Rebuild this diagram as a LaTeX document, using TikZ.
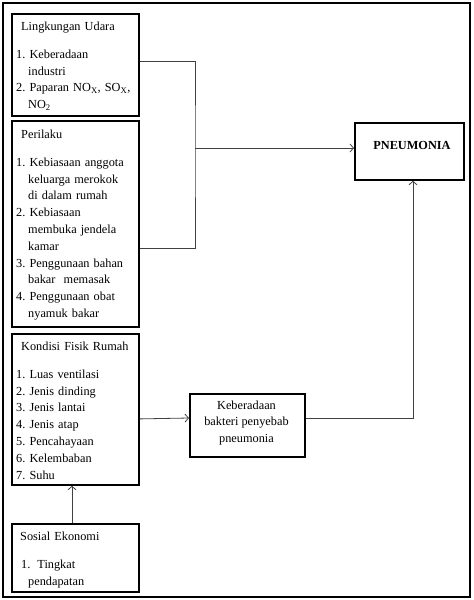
\documentclass[tikz,border=0pt]{standalone}
\usepackage{fontspec}
\setmainfont{Liberation Serif}
\usetikzlibrary{arrows.meta}
\frenchspacing
\tikzset{
  boxnode/.style={draw=black, line width=1.8pt, inner sep=0pt, anchor=north west},
  txtnode/.style={inner sep=0pt, anchor=north west, align=left, text width=120pt,
    font=\fontsize{12.3}{16.8}\selectfont\frenchspacing},
  conn/.style={draw=black!75, line width=0.8pt},
  arr/.style={conn, -{Straight Barb[length=3.5pt,width=8pt]}},
}
\newcommand{\ind}{\hspace*{12pt}}
\begin{document}
\begin{tikzpicture}[x=1pt,y=-1pt]
\useasboundingbox (0,0) rectangle (474,600);
\draw[line width=1.8pt] (3,3) rectangle (470,597);
% boxes
\node[boxnode, minimum width=127pt, minimum height=102pt] (lu) at (11,13) {};
\node[boxnode, minimum width=127pt, minimum height=206pt] (pe) at (11,120) {};
\node[boxnode, minimum width=127pt, minimum height=151pt] (kf) at (11,333) {};
\node[boxnode, minimum width=127pt, minimum height=68pt] (se) at (11,523) {};
\node[boxnode, minimum width=109pt, minimum height=57pt] (pn) at (354,122) {};
\node[boxnode, line width=1.6pt, minimum width=115pt, minimum height=63pt] (kb) at (189,393) {};
% texts
\node[txtnode] (lut) at (16,22) {\hspace*{5pt}Lingkungan Udara\\[10.8pt]
1. Keberadaan\\ \ind industri\\
2. Paparan NO\textsubscript{X}, SO\textsubscript{X},\\ \ind NO\textsubscript{2}};
\node[txtnode] (pet) at (16,130) {\hspace*{5pt}Perilaku\\[10.8pt]
1. Kebiasaan anggota\\ \ind keluarga merokok\\ \ind di dalam rumah\\
2. Kebiasaan\\ \ind membuka jendela\\ \ind kamar\\
3. Penggunaan bahan\\ \ind bakar\ \ memasak\\
4. Penggunaan obat\\ \ind nyamuk bakar};
\node[txtnode] (kft) at (16,342) {\hspace*{5pt}Kondisi Fisik Rumah\\[10.8pt]
1. Luas ventilasi\\ 2. Jenis dinding\\ 3. Jenis lantai\\ 4. Jenis atap\\
5. Pencahayaan\\ 6. Kelembaban\\ 7. Suhu};
\node[txtnode] (set) at (20,532) {Sosial Ekonomi\\[10.8pt]
\hspace*{1pt}1.\hspace{7pt}Tingkat\\ \hspace*{8pt}pendapatan};
\node[font=\fontsize{12.3}{16.8}\selectfont\bfseries, inner sep=0pt] (pnt) at (412,145) {PNEUMONIA};
\node[font=\fontsize{12.3}{16.8}\selectfont, align=center, inner sep=0pt] (kbt) at (246.5,423) {Keberadaan\\bakteri penyebab\\pneumonia};
% connectors
\coordinate (bx) at (195,148);
\coordinate (sx) at (72,523);
\coordinate (ux) at (413,418);
\draw[conn] ([yshift=4pt]lu.east) -| (bx) |- ([yshift=-24pt]pe.east);
\draw[arr] (bx) -- (pn.west |- bx);
\draw[arr] ([yshift=-9.5pt]kf.east) -- (kb.west |- ux);
\draw[arr] (kb.east |- ux) -- (ux) -- (pn.south -| ux);
\draw[arr] (se.north -| sx) -- (kf.south -| sx);
\end{tikzpicture}
\end{document}
